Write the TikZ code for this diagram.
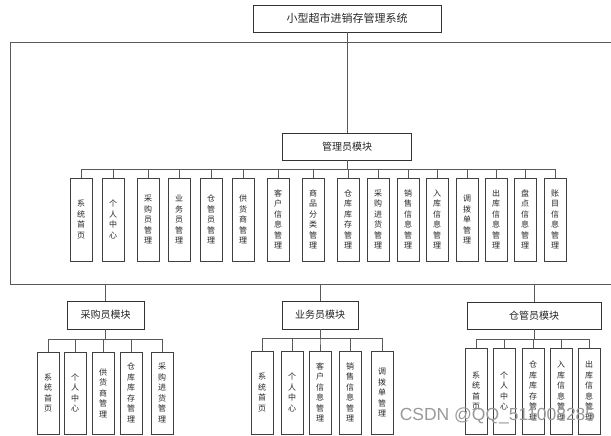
\documentclass[tikz,border=0pt]{standalone}
\usepackage{fontspec}
\setmainfont{Noto Sans CJK SC}
\newfontfamily\wmfont{Liberation Sans}
\begin{document}
\begin{tikzpicture}[x=1pt,y=-1pt,
  modbox/.style={draw=black!80,fill=white,minimum width=#1,minimum height=27pt,inner sep=0pt,
    font=\fontsize{10}{12}\selectfont,text=black!85},
  leafbox/.style={draw=black!75,fill=white,minimum width=22pt,minimum height=83pt,inner sep=0pt,
    align=center,font=\fontsize{8}{10.5}\selectfont,text=black!85},
  link/.style={draw=black!65,line width=0.8pt}]
\useasboundingbox (0,0) rectangle (611,436);
% top level
\node[modbox=188pt,font=\fontsize{11}{13}\selectfont] (sys) at (347,18.5) {小型超市进销存管理系统};
\node[modbox=129pt] (adm) at (347,146.5) {管理员模块};
% frame round the admin part
\coordinate (fTL) at (10,42);
\coordinate (fTR) at (611,42);
\coordinate (fBL) at (10,284);
\coordinate (fBR) at (611,284);
\draw[link] (fTR) -- (fTL) -- (fBL) -- (fBR);
\draw[link] (sys) -- (adm);
% admin leaves
\foreach \x/\txt [count=\i] in {81/{系\\统\\首\\页},113/{个\\人\\中\\心},148/{采\\购\\员\\管\\理},
  179/{业\\务\\员\\管\\理},211/{仓\\管\\员\\管\\理},243/{供\\货\\商\\管\\理},278/{客\\户\\信\\息\\管\\理},
  313/{商\\品\\分\\类\\管\\理},348/{仓\\库\\库\\存\\管\\理},378/{采\\购\\进\\货\\管\\理},
  408/{销\\售\\信\\息\\管\\理},437/{入\\库\\信\\息\\管\\理},467/{调\\拨\\单\\管\\理},
  496/{出\\库\\信\\息\\管\\理},525/{盘\\点\\信\\息\\管\\理},555/{账\\目\\信\\息\\管\\理}}{
  \node[leafbox] (a\i) at (\x,219.5) {\txt};
  \draw[link] (adm.south) -- ++(0,9) -| (a\i.north);
}
% lower modules
\node[modbox=77pt,minimum height=28pt] (cgy) at (105.5,315) {采购员模块};
\node[modbox=76pt,minimum height=28pt] (ywy) at (320,315) {业务员模块};
\node[modbox=134pt] (cgl) at (534,315.5) {仓管员模块};
\draw[link] (cgy.north |- fBL) -- (cgy.north);
\draw[link] (ywy.north |- fBL) -- (ywy.north);
\draw[link] (cgl.north |- fBL) -- (cgl.north);
% buyer leaves
\foreach \x/\txt [count=\i] in {48/{系\\统\\首\\页},75/{个\\人\\中\\心},103/{供\\货\\商\\管\\理},
  131/{仓\\库\\库\\存\\管\\理},162/{采\\购\\进\\货\\管\\理}}{
  \node[leafbox,minimum height=82pt] (p\i) at (\x,393) {\txt};
  \draw[link] (cgy.south) -- ++(0,10) -| (p\i.north);
}
% sales leaves
\foreach \x/\txt [count=\i] in {262/{系\\统\\首\\页},292/{个\\人\\中\\心},320/{客\\户\\信\\息\\管\\理},
  350/{销\\售\\信\\息\\管\\理},382/{调\\拨\\单\\管\\理}}{
  \node[leafbox] (s\i) at (\x,392.5) {\txt};
  \draw[link] (ywy.south) -- ++(0,9) -| (s\i.north);
}
% storekeeper leaves
\foreach \x/\txt [count=\i] in {476/{系\\统\\首\\页},504/{个\\人\\中\\心},533/{仓\\库\\库\\存\\管\\理},
  561/{入\\库\\信\\息\\管\\理},589/{出\\库\\信\\息\\管\\理}}{
  \node[leafbox,minimum height=86pt] (w\i) at (\x,391) {\txt};
  \draw[link] (cgl.south) -- ++(0,10) -| (w\i.north);
}
% watermark
\node[font=\wmfont\fontsize{17.5}{17.5}\selectfont,text=black!40] (wm) at (497.5,416) {CSDN @QQ\_511008285};
\end{tikzpicture}
\end{document}
